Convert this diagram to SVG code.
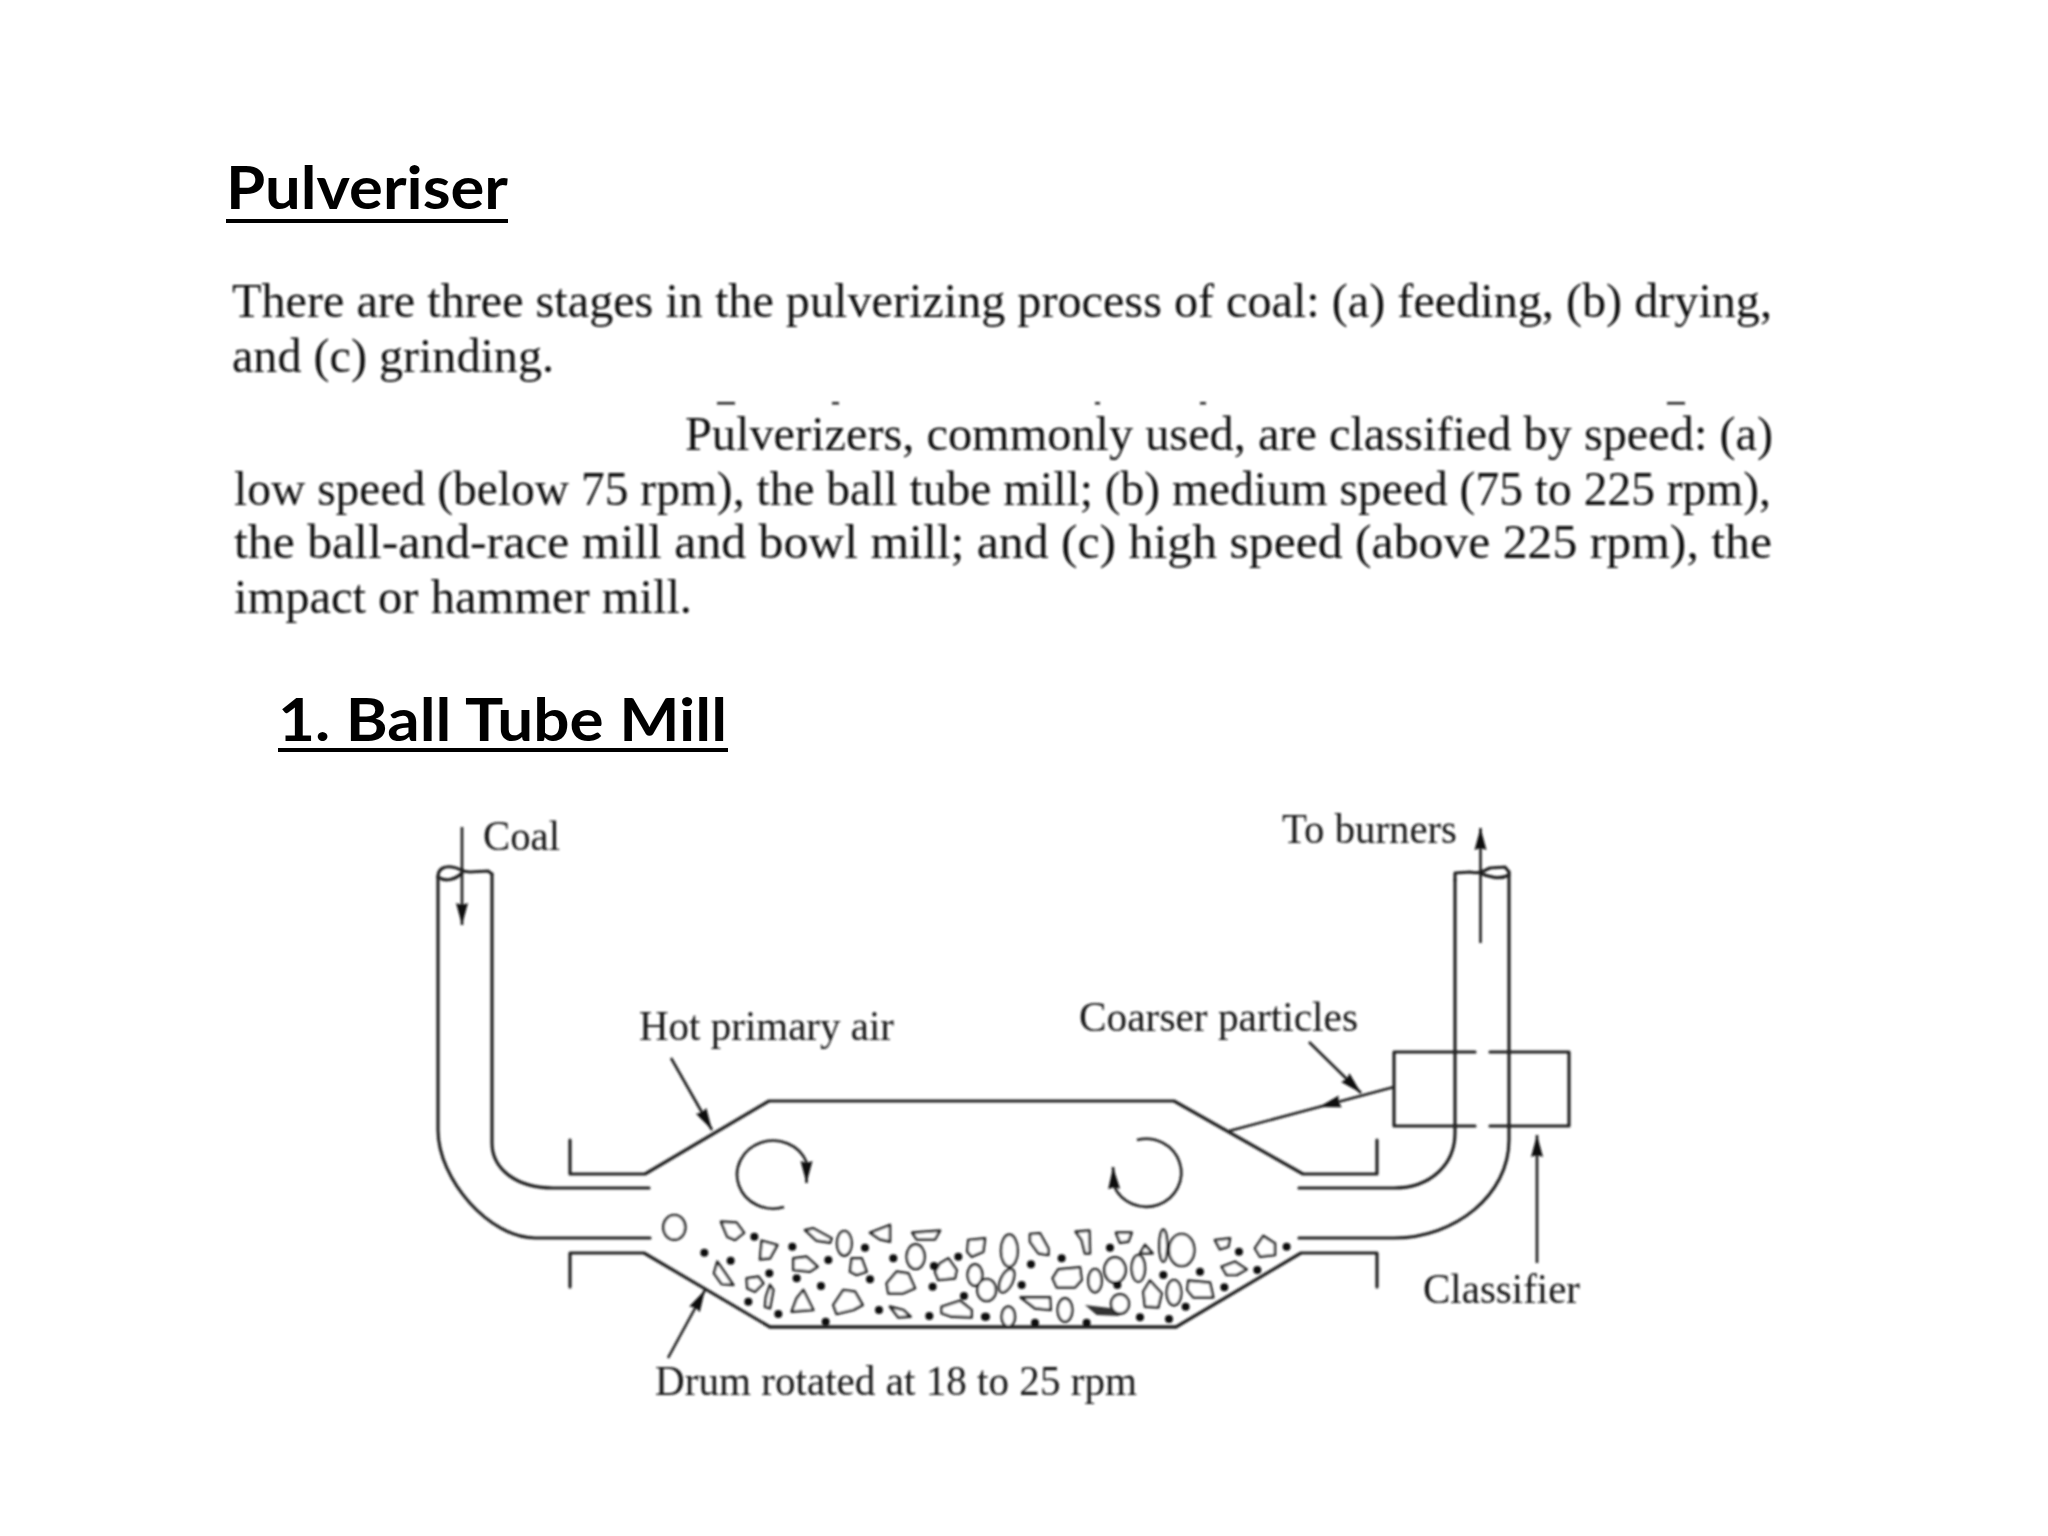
<svg xmlns="http://www.w3.org/2000/svg" width="2048" height="1536" viewBox="0 0 2048 1536">
<style>
.h{font-family:"Lato","Open Sans","Liberation Sans",sans-serif;font-weight:700;font-size:60px;fill:#000}
.b{font-family:"Liberation Serif","Times New Roman",serif;font-size:48px;fill:#0e0e0e}
.l{font-family:"Liberation Serif","Times New Roman",serif;font-size:43px;fill:#161616}
.s{fill:none;stroke:#222;stroke-width:3.2;stroke-linejoin:round;stroke-linecap:round}
.a{fill:none;stroke:#1c1c1c;stroke-width:2.6}
.p{fill:#fff;stroke:#262626;stroke-width:8;stroke-linejoin:round}
.d{fill:#111;stroke:none}
</style>
<defs>
<filter id="soft" x="-5%" y="-5%" width="110%" height="110%"><feGaussianBlur stdDeviation="0.9"/></filter>
<marker id="head" markerUnits="userSpaceOnUse" markerWidth="24" markerHeight="14" refX="22" refY="7" orient="auto"><path d="M0,1 L22,7 L0,13 L2,7 Z" fill="#111"/></marker>
</defs>
<rect width="2048" height="1536" fill="#fff"/>

<g id="titles">
<text class="h" x="226" y="209" textLength="282" lengthAdjust="spacingAndGlyphs">Pulveriser</text>
<rect x="226" y="219" width="282" height="4" fill="#000"/>
<text class="h" x="278" y="741" textLength="449" lengthAdjust="spacingAndGlyphs">1. Ball Tube Mill</text>
<rect x="278" y="748" width="450" height="4" fill="#000"/>
</g>

<g id="body" filter="url(#soft)">
<text class="b" x="232" y="317" textLength="1540" lengthAdjust="spacingAndGlyphs">There are three stages in the pulverizing process of coal: (a) feeding, (b) drying,</text>
<text class="b" x="232" y="372" textLength="322" lengthAdjust="spacingAndGlyphs">and (c) grinding.</text>
<g fill="#222">
<rect x="717" y="402" width="18" height="2.5"/><rect x="832" y="402" width="7" height="2.5"/><rect x="1095" y="402" width="5" height="2.5"/><rect x="1200" y="402" width="6" height="2.5"/><rect x="1667" y="402" width="18" height="2.5"/>
</g>
<text class="b" x="685" y="450" textLength="1088" lengthAdjust="spacingAndGlyphs">Pulverizers, commonly used, are classified by speed: (a)</text>
<text class="b" x="234" y="505" textLength="1537" lengthAdjust="spacingAndGlyphs">low speed (below 75 rpm), the ball tube mill; (b) medium speed (75 to 225 rpm),</text>
<text class="b" x="234" y="558" textLength="1538" lengthAdjust="spacingAndGlyphs">the ball-and-race mill and bowl mill; and (c) high speed (above 225 rpm), the</text>
<text class="b" x="234" y="613" textLength="458" lengthAdjust="spacingAndGlyphs">impact or hammer mill.</text>
</g>

<g id="mill" filter="url(#soft)">
<g id="inlet-pipe">
<path class="s" d="M492,874 V1143 C492,1168 515,1188 553,1188 H649"/>
<path class="s" d="M438,877 V1130 C438,1180 490,1238 535,1238 H650"/>
<path class="s" d="M438,877 C438,868 445,866 452,867 C460,868 462,872 470,872 L488,871 L492,874"/>
<path class="s" d="M438,877 C445,882 455,880 462,873"/>
</g>
<g id="outlet-pipe">
<path class="s" d="M1455,880 V1133 C1455,1165 1430,1188 1394,1188 H1299"/>
<path class="s" d="M1509,872 V1140 C1509,1195 1455,1238 1394,1238 H1299"/>
<path class="s" d="M1455,880 V873 L1470,872 C1478,874 1482,872 1490,868 L1505,867 L1509,872"/>
<path class="s" d="M1480,873 C1488,877 1500,880 1509,875"/>
</g>
<g id="drum">
<path class="s" d="M570,1140 V1174 H645 L769,1101 H1174 L1303,1174 H1377 V1140"/>
<path class="s" d="M570,1287 V1253 H644 L770,1327 H1176 L1301,1253 H1377 V1287"/>
</g>
<g id="classifier">
<path class="s" d="M1475,1052 H1394 V1126 H1475"/>
<path class="s" d="M1490,1052 H1569 V1126 H1490"/>
</g>

<g id="charge-left" transform="translate(640,1210) scale(0.3333)">
<ellipse class="p" cx="103" cy="52" rx="33" ry="37"/>
<path class="p" d="M243,35 L290,38 L312,68 L285,90 L262,80 Z"/>
<path class="p" d="M365,92 L412,105 L390,145 L360,148 Z"/>
<path class="p" d="M495,60 L520,55 L575,85 L570,98 L530,92 Z"/>
<ellipse class="p" cx="613" cy="100" rx="22" ry="37"/>
<path class="p" d="M690,68 L750,45 L750,95 L720,88 Z"/>
<path class="p" d="M817,68 L900,62 L885,88 L830,88 Z"/>
<ellipse class="p" cx="827" cy="140" rx="27" ry="37"/>
<path class="p" d="M985,90 L1035,85 L1030,125 L995,140 L982,125 Z"/>
<path class="p" d="M460,145 L500,140 L533,170 L510,185 L460,180 Z"/>
<path class="p" d="M635,145 L665,145 L680,185 L650,195 L630,185 Z"/>
<path class="p" d="M232,155 L280,225 L245,222 L222,190 Z"/>
<path class="p" d="M320,205 L355,200 L370,220 L345,245 L322,235 Z"/>
<path class="p" d="M390,225 L400,240 L390,295 L375,290 L378,260 Z"/>
<path class="p" d="M490,240 L520,300 L455,305 L470,265 Z"/>
<path class="p" d="M610,240 L645,245 L668,285 L640,300 L590,312 L580,285 Z"/>
<path class="p" d="M770,185 L805,190 L825,235 L790,250 L745,250 L740,220 Z"/>
<path class="p" d="M900,160 L925,145 L950,180 L945,205 L895,210 L885,185 Z"/>
<ellipse class="p" cx="1005" cy="195" rx="22" ry="32"/>
<path class="p" d="M750,290 L790,300 L812,320 L775,322 Z"/>
<path class="p" d="M905,290 L960,272 L995,300 L995,322 L935,320 L905,310 Z"/>
<g class="d">
<circle cx="343" cy="80" r="12"/><circle cx="457" cy="110" r="12"/><circle cx="193" cy="128" r="12"/><circle cx="272" cy="152" r="12"/><circle cx="565" cy="150" r="12"/><circle cx="675" cy="113" r="12"/><circle cx="760" cy="145" r="12"/><circle cx="955" cy="140" r="12"/><circle cx="882" cy="168" r="12"/><circle cx="388" cy="190" r="12"/><circle cx="470" cy="205" r="12"/><circle cx="690" cy="208" r="12"/><circle cx="543" cy="228" r="12"/><circle cx="878" cy="230" r="12"/><circle cx="325" cy="275" r="12"/><circle cx="415" cy="312" r="12"/><circle cx="557" cy="335" r="12"/><circle cx="717" cy="300" r="12"/><circle cx="868" cy="318" r="12"/><circle cx="972" cy="258" r="12"/><circle cx="1035" cy="320" r="12"/>
</g>
</g>
<g id="charge-right" transform="translate(980,1210) scale(0.3333)">
<ellipse class="p" cx="20" cy="240" rx="28" ry="33"/>
<ellipse class="p" cx="88" cy="122" rx="25" ry="48"/>
<path class="p" d="M150,72 L180,70 L205,115 L205,135 L175,130 L150,95 Z"/>
<ellipse class="p" cx="80" cy="212" rx="18" ry="38" transform="rotate(25 80 212)"/>
<path class="p" d="M287,65 L328,62 L330,130 L315,130 L305,90 Z"/>
<path class="p" d="M408,68 L455,68 L445,95 L420,98 Z"/>
<ellipse class="p" cx="550" cy="107" rx="12" ry="48"/>
<ellipse class="p" cx="605" cy="120" rx="38" ry="48"/>
<path class="p" d="M705,90 L750,85 L745,110 L720,118 Z"/>
<path class="p" d="M850,78 L885,100 L885,135 L840,140 L825,115 Z"/>
<path class="p" d="M480,130 L495,105 L518,130 Z"/>
<ellipse class="p" cx="475" cy="175" rx="20" ry="40"/>
<ellipse class="p" cx="405" cy="180" rx="32" ry="38"/>
<path class="p" d="M235,178 L300,172 L305,210 L285,232 L230,232 L218,205 Z"/>
<ellipse class="p" cx="345" cy="212" rx="20" ry="35"/>
<path class="p" d="M725,170 L765,155 L800,178 L770,195 L740,195 Z"/>
<path class="p" d="M510,212 L545,250 L535,292 L495,290 L490,245 Z"/>
<ellipse class="p" cx="582" cy="248" rx="22" ry="38"/>
<path class="p" d="M625,212 L690,218 L700,262 L640,262 L622,240 Z"/>
<path class="p" d="M122,262 L210,262 L212,300 L165,295 Z"/>
<ellipse class="p" cx="255" cy="300" rx="22" ry="35"/>
<path d="M315,285 L395,295 L395,300 L420,318 L350,315 Z" fill="#333"/>
<ellipse class="p" cx="420" cy="282" rx="27" ry="29"/>
<ellipse class="p" cx="85" cy="320" rx="20" ry="30"/>
<g class="d">
<circle cx="153" cy="163" r="12"/><circle cx="245" cy="145" r="12"/><circle cx="390" cy="113" r="12"/><circle cx="777" cy="125" r="12"/><circle cx="920" cy="110" r="12"/><circle cx="550" cy="195" r="12"/><circle cx="660" cy="185" r="12"/><circle cx="832" cy="180" r="12"/><circle cx="125" cy="225" r="12"/><circle cx="733" cy="232" r="12"/><circle cx="412" cy="225" r="12"/><circle cx="617" cy="290" r="12"/><circle cx="18" cy="320" r="12"/><circle cx="165" cy="338" r="12"/><circle cx="320" cy="338" r="12"/><circle cx="480" cy="322" r="12"/><circle cx="567" cy="327" r="12"/>
</g>
</g>
<path class="s" d="M770,1327 H1176"/>

<g id="connectors">
<path class="a" marker-end="url(#head)" d="M462,827 V925"/>
<path class="a" marker-end="url(#head)" d="M1480.5,943 V828"/>
<path class="a" marker-end="url(#head)" d="M671,1058 L712,1130"/>
<path class="a" marker-end="url(#head)" d="M1309,1042 L1361,1093"/>
<path class="a" marker-mid="url(#head)" d="M1394,1087 L1319,1107 L1229,1131"/>
<path class="a" marker-end="url(#head)" d="M1537,1263 V1135"/>
<path class="a" marker-end="url(#head)" d="M668,1358 L705,1290"/>
<path class="a" marker-end="url(#head)" d="M784,1207 A36,34 0 1 1 806.5,1162 L806.5,1183"/>
<path class="a" marker-end="url(#head)" d="M1137,1140 A35,34 0 1 1 1114,1186 L1113,1167"/>
</g>

<g id="labels">
<text class="l" x="483" y="850" textLength="77" lengthAdjust="spacingAndGlyphs">Coal</text>
<text class="l" x="1282" y="843" textLength="175" lengthAdjust="spacingAndGlyphs">To burners</text>
<text class="l" x="639" y="1040" textLength="255" lengthAdjust="spacingAndGlyphs">Hot primary air</text>
<text class="l" x="1079" y="1031" textLength="279" lengthAdjust="spacingAndGlyphs">Coarser particles</text>
<text class="l" x="1423" y="1303" textLength="157" lengthAdjust="spacingAndGlyphs">Classifier</text>
<text class="l" x="655" y="1395" textLength="482" lengthAdjust="spacingAndGlyphs">Drum rotated at 18 to 25 rpm</text>
</g>
</g>
</svg>
